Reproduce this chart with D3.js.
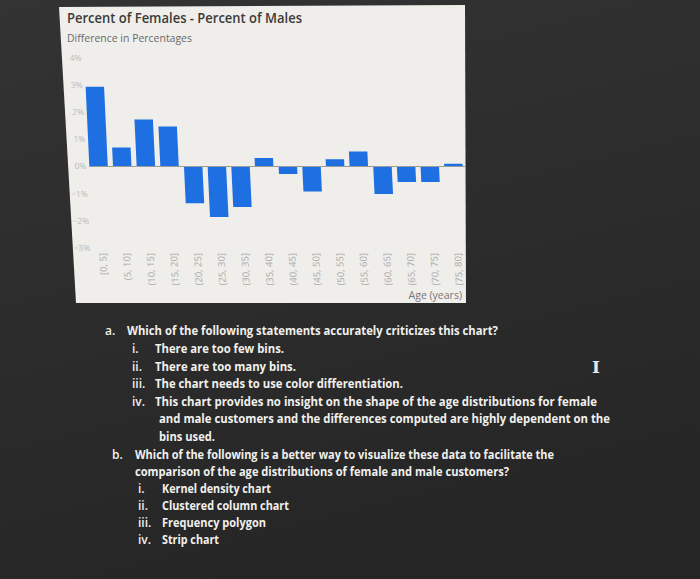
<!DOCTYPE html>
<html>
<head>
<meta charset="utf-8">
<script src="https://cdn.jsdelivr.net/npm/d3@7"></script>
<style>
  html, body { margin: 0; padding: 0; background: #2c2c2c; }
  svg { display: block; }
</style>
</head>
<body>
<svg id="chart" width="700" height="579"></svg>
<script>
// age bins and difference (% females - % males)
const bins = ['[0, 5]', '(5, 10]', '(10, 15]', '(15, 20]', '(20, 25]', '(25, 30]', '(30, 35]', '(35, 40]',
  '(40, 45]', '(45, 50]', '(50, 55]', '(55, 60]', '(60, 65]', '(65, 70]', '(70, 75]', '(75, 80]']
const diffs = [2.93, 0.7, 1.73, 1.47, -1.35, -1.86, -1.49, 0.31, -0.28, -0.92, 0.27, 0.55, -1.01, -0.57, -0.57, 0.1]
const yTicks = [-3, -2, -1, 0, 1, 2, 3, 4]

// question text below the chart: [x, baseline, width, text]
const questionLines = [
  [105, 335, 0, 'a.'],
  [127, 335, 371, 'Which of the following statements accurately criticizes this chart?'],
  [132, 353, 0, 'i.'],
  [155, 353, 129, 'There are too few bins.'],
  [132, 371, 0, 'ii.'],
  [155, 371, 141, 'There are too many bins.'],
  [132, 388, 0, 'iii.'],
  [155, 388, 248, 'The chart needs to use color differentiation.'],
  [132, 406, 0, 'iv.'],
  [155, 406, 442, 'This chart provides no insight on the shape of the age distributions for female'],
  [159, 423, 451, 'and male customers and the differences computed are highly dependent on the'],
  [159, 441, 56, 'bins used.'],
  [112, 459, 0, 'b.'],
  [135, 459, 419, 'Which of the following is a better way to visualize these data to facilitate the'],
  [135, 476, 374, 'comparison of the age distributions of female and male customers?'],
  [138, 493, 0, 'i.'],
  [162, 493, 109, 'Kernel density chart'],
  [138, 510, 0, 'ii.'],
  [162, 510, 127, 'Clustered column chart'],
  [138, 527, 0, 'iii.'],
  [162, 527, 104, 'Frequency polygon'],
  [138, 544, 0, 'iv.'],
  [162, 544, 57, 'Strip chart'],
]

const svg = d3.select('#chart')
const font = "'Open Sans', 'Noto Sans', sans-serif"

// dark screen behind
const grad = svg.append('defs').append('linearGradient')
  .attr('id', 'bg').attr('x1', 0).attr('y1', 0).attr('x2', 0.3).attr('y2', 1)
grad.append('stop').attr('offset', 0).attr('stop-color', '#333333')
grad.append('stop').attr('offset', 1).attr('stop-color', '#262626')
svg.append('rect').attr('width', 700).attr('height', 579).attr('fill', 'url(#bg)')

// white chart panel (photo is slightly tilted)
svg.append('polygon')
  .attr('points', '59,7 465,5 466,303 76,303')
  .attr('fill', '#efeeea')

svg.append('text')
  .attr('x', 67).attr('y', 23)
  .attr('font-family', font).attr('font-size', 14.5).attr('font-weight', 600)
  .attr('fill', '#3a3a3a')
  .attr('textLength', 235).attr('lengthAdjust', 'spacingAndGlyphs')
  .text('Percent of Females - Percent of Males')

svg.append('text')
  .attr('x', 67).attr('y', 42)
  .attr('font-family', font).attr('font-size', 11)
  .attr('fill', '#6a6a6a')
  .attr('textLength', 125).attr('lengthAdjust', 'spacingAndGlyphs')
  .text('Difference in Percentages')

const g = svg.append('g')
  .attr('transform', 'translate(0,7) skewX(2.7) translate(0,-7)')

const x = d3.scaleBand().domain(bins).range([79, 458]).paddingInner(0.22).paddingOuter(0.12)
const y = d3.scaleLinear().domain([-3, 4]).range([248.1, 57.7])

g.append('g')
  .selectAll('text')
  .data(yTicks)
  .join('text')
  .attr('x', 79).attr('y', (d) => y(d) + 3)
  .attr('text-anchor', 'end')
  .attr('font-family', font).attr('font-size', 8.5)
  .attr('fill', '#bdbdbd')
  .text((d) => (d < 0 ? '\u2212' + Math.abs(d) : d) + '%')

g.append('g')
  .selectAll('rect')
  .data(diffs)
  .join('rect')
  .attr('x', (d, i) => x(bins[i]))
  .attr('width', x.bandwidth())
  .attr('y', (d) => y(Math.max(0, d)))
  .attr('height', (d) => Math.abs(y(d) - y(0)))
  .attr('fill', '#1d6fe2')

g.append('line')
  .attr('x1', x(bins[0])).attr('x2', 458)
  .attr('y1', y(0)).attr('y2', y(0))
  .attr('stroke', '#9a9a9a').attr('stroke-width', 1)

g.append('g')
  .selectAll('text')
  .data(bins)
  .join('text')
  .attr('transform', (d) => `translate(${x(d) + x.bandwidth() / 2 + 3.5},253) rotate(-90)`)
  .attr('text-anchor', 'end')
  .attr('font-family', font).attr('font-size', 9.5)
  .attr('fill', '#ababab')
  .text((d) => d)

svg.append('text')
  .attr('x', 462).attr('y', 299)
  .attr('text-anchor', 'end')
  .attr('font-family', font).attr('font-size', 10.5)
  .attr('fill', '#777')
  .text('Age (years)')

// question text
svg.append('g')
  .selectAll('text')
  .data(questionLines)
  .join('text')
  .attr('x', (d) => d[0]).attr('y', (d) => d[1])
  .attr('font-family', font)
  .attr('font-size', (d) => (d[2] > 0 ? 12.6 : 12))
  .attr('font-weight', (d) => (d[2] > 0 ? 700 : 600))
  .attr('fill', '#f0f0ee')
  .each(function (d) {
    if (d[2] > 0) {
      d3.select(this).attr('textLength', d[2]).attr('lengthAdjust', 'spacingAndGlyphs')
    }
  })
  .text((d) => d[3])

// text cursor in the photo
svg.append('text')
  .attr('x', 596).attr('y', 373)
  .attr('text-anchor', 'middle')
  .attr('font-family', "'DejaVu Serif', serif").attr('font-size', 17).attr('font-weight', 700)
  .attr('fill', '#e8e8e8')
  .text('I')
</script>
</body>
</html>
